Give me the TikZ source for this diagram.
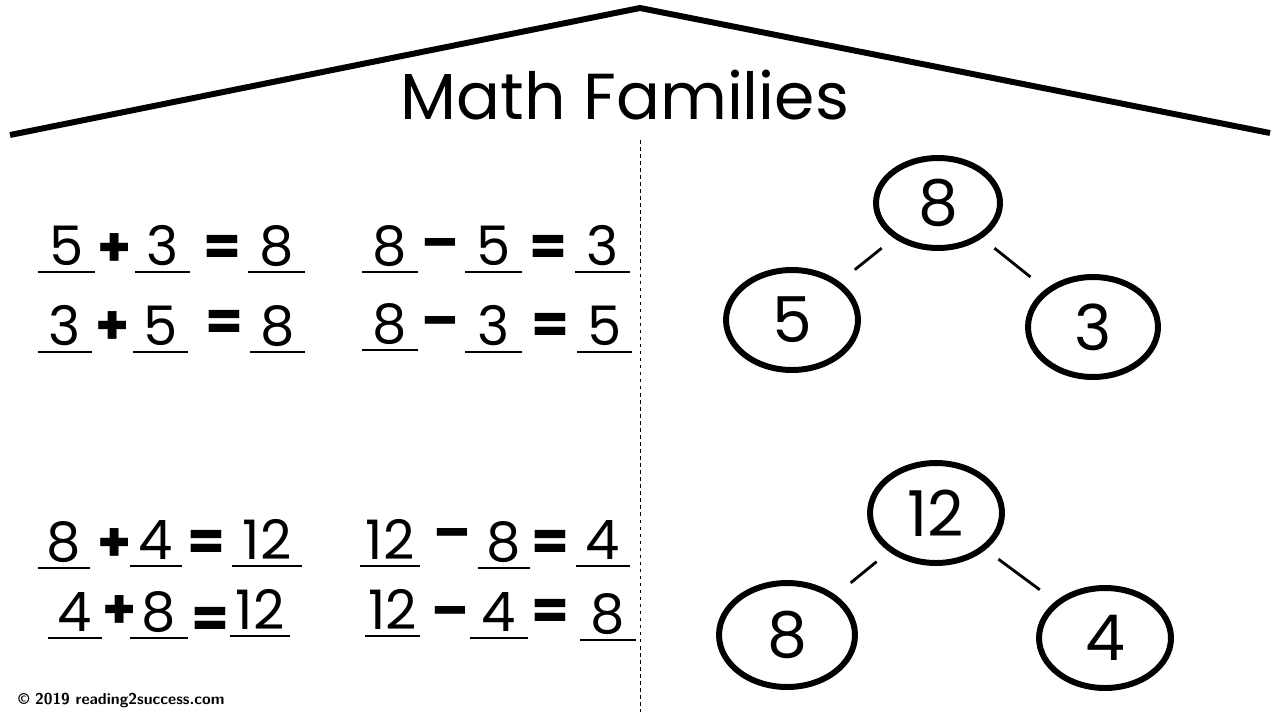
\documentclass[tikz,border=0pt]{standalone}
\usepackage{fontspec}
\setmainfont{Poppins}
\usetikzlibrary{shapes.geometric}
\newcommand{\blnk}[5]{% x1 x2 yline text name
  \draw[uline] (#1,#3) -- (#2,#3);
  \node[num,anchor=base] (#5) at ({(#1+#2)/2},#3-7) {#4};}
\newcommand{\opn}[4]{\node[num,anchor=center] (#4) at (#1,#2) {#3};}
\begin{document}
\begin{tikzpicture}[x=0.02cm,y=-0.02cm,
  num/.style={inner sep=0pt,font=\fontsize{31}{34}\selectfont},
  uline/.style={line width=1.3pt},
  bub/.style={draw,ellipse,line width=3.4pt,inner sep=0pt,font=\fontsize{36}{40}\selectfont},
  link/.style={line width=1.6pt}]
\useasboundingbox (0,0) rectangle (1280,720);
\coordinate (L) at (10,135); \coordinate (T) at (640,8); \coordinate (R) at (1270,133);
\draw[line width=3.4pt] (L) -- (T) -- (R);
\node[inner sep=0pt,font=\fontsize{37}{44}\selectfont] (title) at (625,95) {Math Families};
\coordinate (d1) at (640,140); \coordinate (d2) at (640,712);
\draw[dash pattern=on 2pt off 2pt,line width=0.5pt] (d1) -- (d2);
% row 1
\blnk{38}{95}{272}{5}{a1}\opn{115}{250}{\textbf{+}}{a2}\blnk{135}{190}{272}{3}{a3}
\opn{222}{250}{\textbf{=}}{a4}\blnk{248}{305}{272}{8}{a5}
\blnk{362}{418}{272}{8}{a6}\opn{440}{250}{\textbf{–}}{a7}\blnk{465}{522}{272}{5}{a8}
\opn{548}{250}{\textbf{=}}{a9}\blnk{575}{630}{272}{3}{a10}
% row 2
\blnk{38}{92}{352}{3}{b1}\opn{113}{328}{\textbf{+}}{b2}\blnk{133}{188}{352}{5}{b3}
\opn{224}{325}{\textbf{=}}{b4}\blnk{250}{305}{352}{8}{b5}
\blnk{362}{418}{350}{8}{b6}\opn{440}{328}{\textbf{–}}{b7}\blnk{465}{522}{352}{3}{b8}
\opn{550}{328}{\textbf{=}}{b9}\blnk{577}{632}{352}{5}{b10}
% row 3
\blnk{38}{90}{568}{8}{c1}\opn{115}{545}{\textbf{+}}{c2}\blnk{130}{182}{566}{4}{c3}
\opn{206}{545}{\textbf{=}}{c4}\blnk{232}{302}{566}{12}{c5}
\blnk{360}{420}{566}{12}{c6}\opn{452}{540}{\textbf{–}}{c7}\blnk{478}{530}{568}{8}{c8}
\opn{550}{545}{\textbf{=}}{c9}\blnk{576}{630}{566}{4}{c10}
% row 4
\blnk{48}{102}{638}{4}{e1}\opn{120}{612}{\textbf{+}}{e2}\blnk{130}{188}{638}{8}{e3}
\opn{210}{622}{\textbf{=}}{e4}\blnk{230}{290}{636}{12}{e5}
\blnk{365}{420}{636}{12}{e6}\opn{450}{618}{\textbf{–}}{e7}\blnk{470}{528}{638}{4}{e8}
\opn{550}{614}{\textbf{=}}{e9}\blnk{580}{636}{640}{8}{e10}
% bubbles
\node[bub,minimum width=2.48cm,minimum height=1.8cm] (t8) at (938,203) {8};
\node[bub,minimum width=2.64cm,minimum height=2cm] (l5) at (792,320) {5};
\node[bub,minimum width=2.6cm,minimum height=2cm] (r3) at (1093,327) {3};
\draw[link,shorten <=9pt,shorten >=11pt] (t8) -- (l5);
\draw[link,shorten <=9pt,shorten >=11pt] (t8) -- (r3);
\node[bub,minimum width=2.64cm,minimum height=2cm] (t12) at (936,513) {12};
\node[bub,minimum width=2.72cm,minimum height=2.08cm] (l8) at (787,635) {8};
\node[bub,minimum width=2.64cm,minimum height=2cm] (r4) at (1105,638) {4};
\draw[link,shorten <=9pt,shorten >=11pt] (t12) -- (l8);
\draw[link,shorten <=9pt,shorten >=11pt] (t12) -- (r4);
\node[anchor=west,inner sep=0pt,font=\sffamily\bfseries\fontsize{9}{10}\selectfont] (copy) at (18,700) {© 2019 reading2success.com};
\end{tikzpicture}
\end{document}
